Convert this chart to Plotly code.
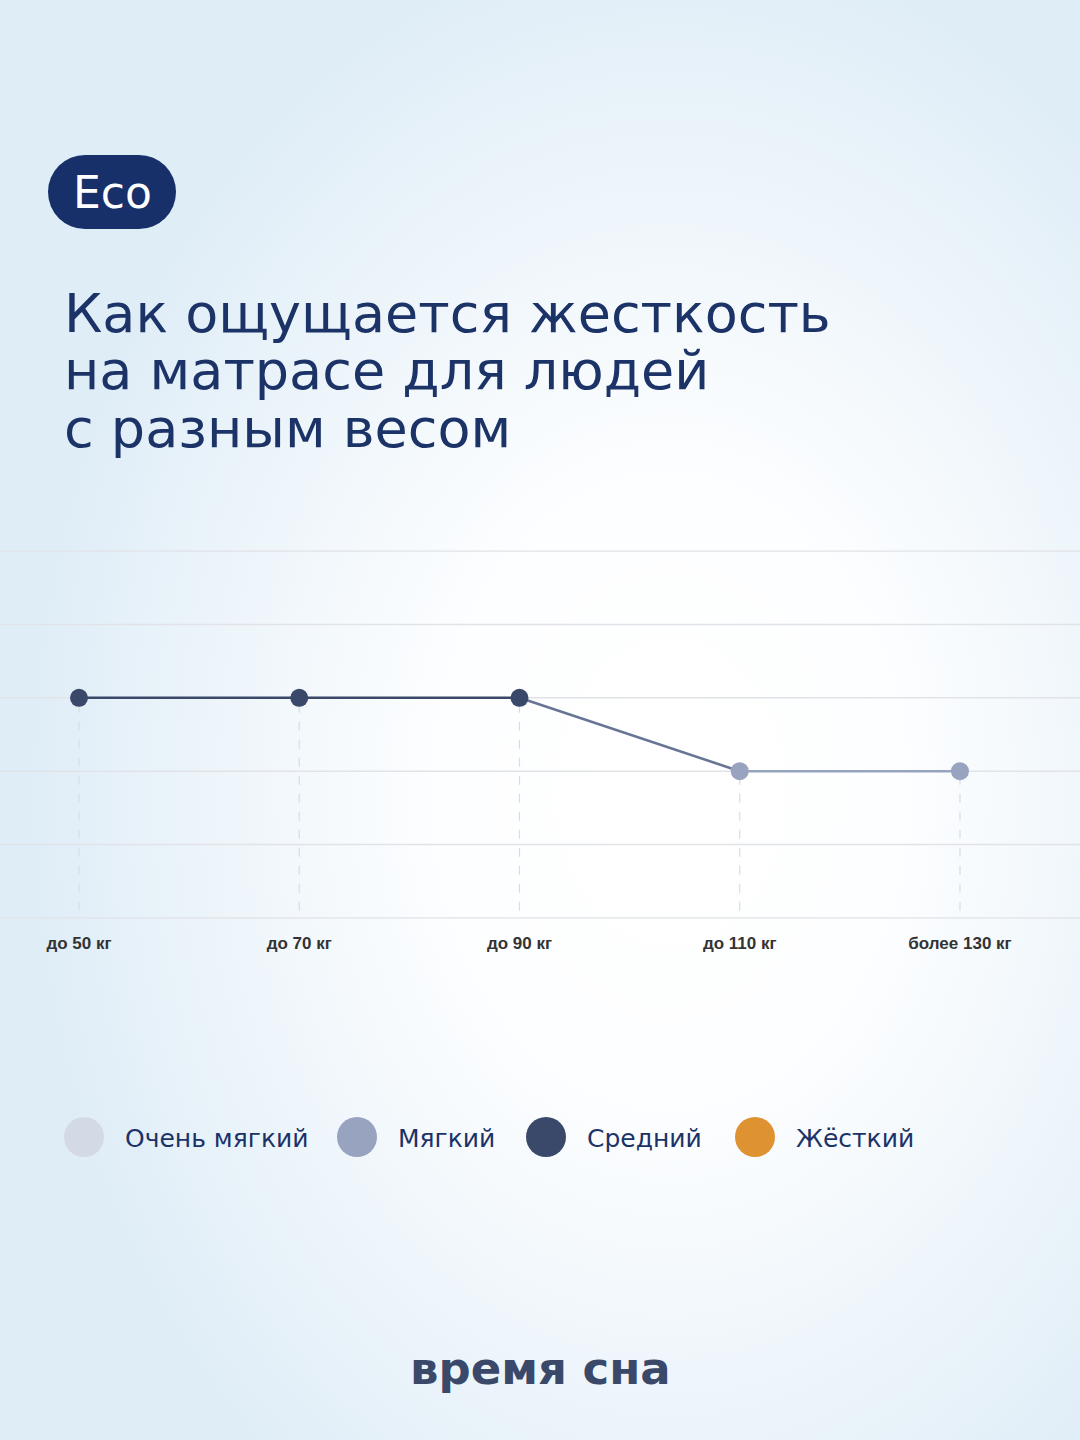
import base64
import plotly.graph_objects as go

# ---------------- data ----------------
categories = ["до 50 кг", "до 70 кг", "до 90 кг", "до 110 кг", "более 130 кг"]
firmness = [3, 3, 3, 2, 2]          # 1 очень мягкий, 2 мягкий, 3 средний, 4 жёсткий
level_names = ["Очень мягкий", "Мягкий", "Средний", "Жёсткий"]
level_colors = ["#d3d9e5", "#97a3bf", "#3a4869", "#df9231"]
grid_levels = [0, 1, 2, 3, 4, 5]
title_lines = ["Как ощущается жесткость", "на матрасе для людей", "с разным весом"]
badge_text = "Eco"
brand_text = "время сна"

W, H = 1080, 1440
NAVY = "#1c3367"


def px(x):
    return x / W


def py(y):
    return 1 - y / H


def blend(c1, c2):
    a = [int(c1[i:i + 2], 16) for i in (1, 3, 5)]
    b = [int(c2[i:i + 2], 16) for i in (1, 3, 5)]
    return "#" + "".join(f"{(u + v) // 2:02x}" for u, v in zip(a, b))


xs = list(range(len(categories)))
fig = go.Figure()

# dashed drop lines
for xi, v in zip(xs, firmness):
    fig.add_trace(go.Scatter(x=[xi, xi], y=[0.1, v], mode="lines",
                             line=dict(color="#d9dce2", width=1.2, dash="dash"),
                             hoverinfo="skip", showlegend=False))

# line segments
for i in range(len(xs) - 1):
    c1 = level_colors[firmness[i] - 1]
    c2 = level_colors[firmness[i + 1] - 1]
    col = c1 if c1 == c2 else blend(c1, c2)
    fig.add_trace(go.Scatter(x=[xs[i], xs[i + 1]], y=[firmness[i], firmness[i + 1]],
                             mode="lines", line=dict(color=col, width=2.6),
                             hoverinfo="skip", showlegend=False))

# markers
fig.add_trace(go.Scatter(x=xs, y=firmness, mode="markers",
                         marker=dict(size=18, color=[level_colors[v - 1] for v in firmness],
                                     line=dict(width=0)),
                         showlegend=False))

# background gradient
svg = f"""<svg xmlns='http://www.w3.org/2000/svg' width='{W}' height='{H}'>
<defs>
<radialGradient id='g' cx='0.62' cy='0.55' r='0.6'>
<stop offset='0' stop-color='#ffffff'/>
<stop offset='0.35' stop-color='#fdfeff'/>
<stop offset='1' stop-color='#ffffff' stop-opacity='0'/>
</radialGradient>
</defs>
<rect width='{W}' height='{H}' fill='#dfedf7'/>
<rect width='{W}' height='{H}' fill='url(#g)'/>
</svg>"""
src = "data:image/svg+xml;base64," + base64.b64encode(svg.encode()).decode()

shapes = []
# horizontal grid lines
for g in grid_levels:
    shapes.append(dict(type="line", xref="paper", yref="y", x0=0, x1=1, y0=g, y1=g,
                       line=dict(color="#e1e3e8", width=1.5), layer="below"))

# Eco pill
pl, pr, pt, pb = 48, 176, 155, 229
r = (pb - pt) / 2
shapes.append(dict(type="circle", xref="paper", yref="paper", x0=px(pl), x1=px(pl + 2 * r),
                   y0=py(pb), y1=py(pt), fillcolor="#173069", line=dict(width=0), layer="above"))
shapes.append(dict(type="circle", xref="paper", yref="paper", x0=px(pr - 2 * r), x1=px(pr),
                   y0=py(pb), y1=py(pt), fillcolor="#173069", line=dict(width=0), layer="above"))
shapes.append(dict(type="rect", xref="paper", yref="paper", x0=px(pl + r), x1=px(pr - r),
                   y0=py(pb), y1=py(pt), fillcolor="#173069", line=dict(width=0), layer="above"))

annotations = [dict(text=badge_text, x=px((pl + pr) / 2), y=py((pt + pb) / 2 + 1), xref="paper", yref="paper",
                    showarrow=False, xanchor="center", yanchor="middle",
                    font=dict(family="DejaVu Sans", size=44, color="white"))]

# title lines
for i, line in enumerate(title_lines):
    annotations.append(dict(text=line, x=px(62), y=py(313 + 58 * i), xref="paper", yref="paper",
                            showarrow=False, xanchor="left", yanchor="middle",
                            font=dict(family="DejaVu Sans", size=54, color=NAVY)))

# legend (manual)
leg_cx = [84, 357, 546, 755]
leg_y = 1137
leg_r = 20
for cx, name, col in zip(leg_cx, level_names, level_colors):
    shapes.append(dict(type="circle", xref="paper", yref="paper", x0=px(cx - leg_r), x1=px(cx + leg_r),
                       y0=py(leg_y + leg_r), y1=py(leg_y - leg_r), fillcolor=col, line=dict(width=0)))
    annotations.append(dict(text=name, x=px(cx + 39), y=py(leg_y + 1), xref="paper", yref="paper",
                            showarrow=False, xanchor="left", yanchor="middle",
                            font=dict(family="DejaVu Sans", size=25, color=NAVY)))

# brand
annotations.append(dict(text=f"<b>{brand_text}</b>", x=0.5, y=py(1368), xref="paper", yref="paper",
                        showarrow=False, xanchor="center", yanchor="middle",
                        font=dict(family="DejaVu Sans", size=45, color="#3a4869")))

fig.update_layout(
    width=W, height=H,
    margin=dict(l=0, r=0, t=0, b=0),
    paper_bgcolor="#dfedf7",
    plot_bgcolor="rgba(0,0,0,0)",
    images=[dict(source=src, xref="paper", yref="paper", x=0, y=1, sizex=1, sizey=1,
                 sizing="stretch", layer="below", xanchor="left", yanchor="top")],
    shapes=shapes,
    annotations=annotations,
    xaxis=dict(range=[-0.3587, 4.545], tickvals=xs, ticktext=categories,
               showgrid=False, zeroline=False, showline=False, ticks="",
               tickfont=dict(family="Liberation Sans", size=17, color="#333333", weight="bold"),
               ticklabelstandoff=12, fixedrange=True),
    yaxis=dict(range=[-0.01, 5.01], domain=[(H - 918.7) / H, (H - 550.3) / H],
               showticklabels=False, showgrid=False,
               zeroline=False, showline=False, fixedrange=True),
    showlegend=False,
)

fig.write_html("out.html")
